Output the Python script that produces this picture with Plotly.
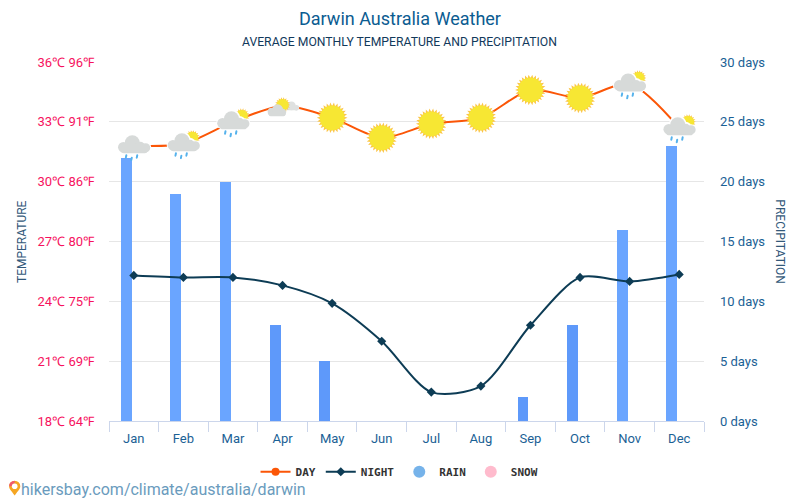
"""Darwin monthly weather: day/night temperature lines over rainy-day bars."""
import base64
import math

import plotly.graph_objects as go

MONTHS = ["Jan", "Feb", "Mar", "Apr", "May", "Jun", "Jul", "Aug", "Sep", "Oct", "Nov", "Dec"]
DAY_TEMP = [31.8, 31.9, 33.0, 33.8, 33.2, 32.2, 32.9, 33.2, 34.6, 34.2, 34.9, 32.7]
NIGHT_TEMP = [25.3, 25.2, 25.2, 24.8, 23.9, 22.0, 19.45, 19.75, 22.8, 25.2, 25.0, 25.35]
RAIN_DAYS = [22, 19, 20, 8, 5, 0, 0, 0, 2, 8, 16, 23]
ICONS = ["rain", "sunrain", "sunrain", "suncloud", "sun", "sun", "sun", "sun", "sun", "sun",
         "sunrain", "sunrain"]
TEMP_TICKS = [18, 21, 24, 27, 30, 33, 36]
TEMP_LABELS = ["18℃ 64℉", "21℃ 69℉", "24℃ 75℉", "27℃ 80℉", "30℃ 86℉", "33℃ 91℉", "36℃ 96℉"]
RAIN_TICKS = [0, 5, 10, 15, 20, 25, 30]
RAIN_LABELS = ["0 days", "5 days", "10 days", "15 days", "20 days", "25 days", "30 days"]

FONT = "Roboto"
BLUE = "#1b6195"
RED = "#f6125e"


def svg_uri(body):
    svg = f'<svg xmlns="http://www.w3.org/2000/svg" viewBox="0 0 40 40" width="160" height="160">{body}</svg>'
    return "data:image/svg+xml;base64," + base64.b64encode(svg.encode()).decode()


def sun_svg(cx, cy, r, spikes, spike_len):
    pts = []
    for i in range(spikes * 2):
        a = math.pi * i / spikes
        rad = r + spike_len if i % 2 == 0 else r - 0.5
        pts.append(f"{cx + rad * math.cos(a):.2f},{cy + rad * math.sin(a):.2f}")
    return (f'<polygon points="{" ".join(pts)}" fill="#fbc64a"/>'
            f'<circle cx="{cx}" cy="{cy}" r="{r}" fill="#f7e733"/>')


CLOUD = ('<g fill="#ffffff"><circle cx="9.5" cy="21" r="6.4"/><circle cx="18.5" cy="16" r="8.6"/>'
         '<circle cx="26.5" cy="20" r="6"/><circle cx="32" cy="22" r="5.6"/>'
         '<rect x="7" y="20" width="27" height="8.6" rx="3"/></g>'
         '<g fill="#d7dad9"><circle cx="9.5" cy="21.5" r="5.4"/><circle cx="18.5" cy="17" r="7.6"/>'
         '<circle cx="26.5" cy="21" r="5"/><circle cx="32" cy="22" r="4.6"/>'
         '<rect x="7" y="20" width="27" height="7.6" rx="3"/></g>')
DROPS = ('<g stroke="#55b2ec" stroke-width="2" stroke-linecap="round">'
         '<path d="M12.5 29.5 L12 32"/><path d="M18 32 L17.5 34.5"/><path d="M23.5 29.5 L23 32"/></g>')
BACK_CLOUD = ('<g fill="#dfe1e0"><circle cx="29" cy="20" r="4.4"/><circle cx="34" cy="22" r="2.8"/>'
              '<rect x="22" y="20" width="14" height="4.4" rx="2"/></g>')
FRONT_CLOUD = ('<g fill="#d7dad9"><circle cx="9" cy="26" r="4"/><circle cx="15" cy="24" r="5.6"/>'
               '<circle cx="20" cy="26.5" r="3.6"/><rect x="6" y="26" width="17" height="4.4" rx="2"/></g>')
ICON_SVG = {
    "sun": svg_uri(sun_svg(20, 20, 12.5, 26, 3)),
    "rain": svg_uri(CLOUD + DROPS),
    "sunrain": svg_uri(sun_svg(29, 14, 6, 18, 1.8) + CLOUD + DROPS),
    "suncloud": svg_uri(BACK_CLOUD + sun_svg(20, 19, 6, 18, 1.8) + FRONT_CLOUD),
}
PIN = svg_uri('<path d="M20 38 C12 27 6 22 6 15 A14 14 0 0 1 34 15 C34 22 28 27 20 38 Z" fill="#f5a623"/>'
              '<path d="M6 15 A14 14 0 0 1 20 1 L20 8 A7 7 0 0 0 13 15 Z" fill="#ef5a6f"/>'
              '<circle cx="20" cy="15" r="7" fill="#fff"/>')

fig = go.Figure()
fig.add_trace(go.Scatter(x=MONTHS, y=DAY_TEMP, name="DAY", yaxis="y2", mode="lines+markers",
                         line=dict(color="#fb5607", width=2, shape="spline", smoothing=0.8),
                         marker=dict(symbol="circle", size=8, color="#fb5607")))
fig.add_trace(go.Scatter(x=MONTHS, y=NIGHT_TEMP, name="NIGHT", yaxis="y2", mode="lines+markers",
                         line=dict(color="#0d3c55", width=2, shape="spline", smoothing=0.8),
                         marker=dict(symbol="diamond", size=7, color="#0d3c55")))
fig.add_trace(go.Bar(x=MONTHS, y=RAIN_DAYS, name="days", width=0.22, offset=-0.26, showlegend=False,
                     marker=dict(color=["#6aa5ff" if v >= 16 else "#5e99fa" for v in RAIN_DAYS],
                                 line=dict(width=0))))
# legend-only entries, the bars themselves are square in a legend
fig.add_trace(go.Scatter(x=[None], y=[None], name="RAIN", mode="markers",
                         marker=dict(symbol="circle", size=12, color="#76b3ea")))
fig.add_trace(go.Scatter(x=[None], y=[None], name="SNOW", mode="markers",
                         marker=dict(symbol="circle", size=12, color="#ffbbcd")))

images = [dict(source=ICON_SVG[kind], xref="x", yref="y2", x=month, y=temp,
               sizex=0.8, sizey=2.0, xanchor="center", yanchor="middle", layer="above")
          for month, temp, kind in zip(MONTHS, DAY_TEMP, ICONS)]
images.append(dict(source=PIN, xref="paper", yref="paper", x=-0.172, y=-0.165,
                   sizex=0.027, sizey=0.045, xanchor="left", yanchor="top", layer="above"))

fig.update_layout(
    width=800, height=500,
    margin=dict(l=108.5, r=95.5, t=62, b=79, autoexpand=False),
    paper_bgcolor="white", plot_bgcolor="white",
    font=dict(family=FONT, size=13, color=BLUE),
    bargap=0,
    images=images,
    xaxis=dict(type="category", range=[-0.5, 11.5], tickson="boundaries", ticks="outside", ticklen=10,
               tickcolor="#ccd6eb", linecolor="#ccd6eb", showline=True, showgrid=False, ticklabelstandoff=5,
               tickfont=dict(family=FONT, size=13, color=BLUE)),
    yaxis=dict(range=[0, 30], side="right", tickvals=RAIN_TICKS, ticktext=RAIN_LABELS, showgrid=True,
               gridcolor="#e6e6e6", gridwidth=1, zeroline=False, ticks="", ticklabelstandoff=15,
               tickfont=dict(family=FONT, size=13, color=BLUE)),
    yaxis2=dict(range=[18, 36], overlaying="y", side="left", tickvals=TEMP_TICKS, ticktext=TEMP_LABELS,
                showgrid=False, zeroline=False, ticks="", ticklabelstandoff=14,
                tickfont=dict(family=FONT, size=13, color=RED)),
    legend=dict(orientation="h", x=0.4883, xanchor="center", y=-0.101, yanchor="top", itemwidth=30,
                font=dict(family="DejaVu Sans Mono", size=11, color="#333333", weight="bold"),
                bgcolor="rgba(0,0,0,0)", traceorder="normal", itemclick=False),
    annotations=[
        dict(text="Darwin Australia Weather", xref="paper", yref="paper", x=0.4883, y=1.122, yanchor="middle",
             showarrow=False, font=dict(family=FONT, size=18, color="#0b5c91")),
        dict(text="AVERAGE MONTHLY TEMPERATURE AND PRECIPITATION", xref="paper", yref="paper", x=0.4883, y=1.056,
             yanchor="middle", showarrow=False, font=dict(family=FONT, size=12.2, color="#12395b")),
        dict(text="TEMPERATURE", xref="paper", yref="paper", x=-0.147, xanchor="center", y=0.5, textangle=-90,
             showarrow=False, font=dict(family=FONT, size=12, color="#33597a")),
        dict(text="PRECIPITATION", xref="paper", yref="paper", x=1.128, xanchor="center", y=0.5, textangle=90,
             showarrow=False, font=dict(family=FONT, size=12, color="#33597a")),
        dict(text="hikersbay.com/climate/australia/darwin", xref="paper", yref="paper", x=-0.152, y=-0.16,
             xanchor="left", yanchor="top", showarrow=False,
             font=dict(family=FONT, size=16, color="#6a9bbd")),
    ],
)

fig.write_html("out.html", post_script="document.body.style.margin='0';", config={"displayModeBar": False})
